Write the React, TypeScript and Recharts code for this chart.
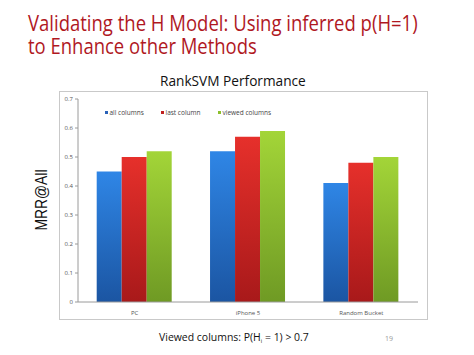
import { useLayoutEffect, useRef, useState } from 'react';
import type { ReactNode } from 'react';
import { BarChart, Bar, XAxis, YAxis, Legend } from 'recharts';

const categories = ['PC', 'iPhone 5', 'Random Bucket'];
const allColumns = [0.45, 0.52, 0.41];
const lastColumn = [0.5, 0.57, 0.48];
const viewedColumns = [0.52, 0.59, 0.5];
const yTicks = [0, 0.1, 0.2, 0.3, 0.4, 0.5, 0.6, 0.7];

const SERIES = [
  { key: 'all', name: 'all columns', grad: 'gBlue', color: '#2a62b8', top: '#2f86e6', bottom: '#1b55a2' },
  { key: 'last', name: 'last column', grad: 'gRed', color: '#c01f1f', top: '#e6302b', bottom: '#a8191a' },
  { key: 'viewed', name: 'viewed columns', grad: 'gGreen', color: '#8cbf2c', top: '#a3d538', bottom: '#6f9a24' },
];

const data = categories.map((name, i) => ({
  name,
  all: allColumns[i],
  last: lastColumn[i],
  viewed: viewedColumns[i],
}));

const small = { fontFamily: 'Open Sans, sans-serif', fontSize: 6, fill: '#555' };

// squeeze a text horizontally so it spans `width` px, like the narrow slide font
function FitText({ x, y, width, rotate = 0, anchorMiddle = false, children, ...rest }: {
  x: number; y: number; width: number; rotate?: number; anchorMiddle?: boolean; children: ReactNode; [k: string]: any;
}) {
  const ref = useRef<SVGTextElement>(null);
  const [s, setS] = useState(1);
  useLayoutEffect(() => {
    if (ref.current) {
      const w = ref.current.getComputedTextLength();
      if (w > 0) setS(width / w);
    }
  }, [width]);
  return (
    <text
      ref={ref}
      x={0}
      y={0}
      textAnchor={anchorMiddle ? 'middle' : 'start'}
      transform={`translate(${x},${y}) rotate(${rotate}) scale(${s},1)`}
      {...rest}
    >
      {children}
    </text>
  );
}

function LegendRow() {
  const xs = [46, 102, 159];
  return (
    <div style={{ position: 'relative', height: 10 }}>
      {SERIES.map((s, i) => (
        <div
          key={s.key}
          style={{ position: 'absolute', left: xs[i], top: 0, display: 'flex', alignItems: 'center', fontFamily: 'Open Sans, sans-serif', fontSize: 6.5, color: '#444', whiteSpace: 'nowrap' }}
        >
          <span style={{ width: 3, height: 3, background: s.color, marginRight: 1.5, display: 'inline-block' }} />
          {s.name}
        </div>
      ))}
    </div>
  );
}

export default function App() {
  const titleFont = { fill: '#b0181f', fontFamily: 'Open Sans, sans-serif', fontSize: 21 };
  return (
    <div style={{ position: 'absolute', left: 0, top: 0, width: 474, height: 355, background: '#fff', overflow: 'hidden' }}>
      <svg width={474} height={355} style={{ position: 'absolute', left: 0, top: 0 }}>
        <FitText x={28} y={31} width={390} {...titleFont}>
          Validating the H Model: Using inferred p(H=1)
        </FitText>
        <FitText x={28} y={54} width={229} {...titleFont}>
          to Enhance other Methods
        </FitText>
        <FitText x={160} y={86} width={146} fill="#111" fontFamily="Open Sans, sans-serif" fontSize={14.5}>
          RankSVM Performance
        </FitText>
        <FitText x={47} y={200} width={61} rotate={-90} anchorMiddle fill="#111" fontFamily="Liberation Sans, sans-serif" fontSize={16.5}>
          MRR@All
        </FitText>
        <FitText x={159} y={341} width={150} fill="#111" fontFamily="Open Sans, sans-serif" fontSize={11.5}>
          Viewed columns: P(H<tspan fontSize={6} dy={2}>i</tspan><tspan dy={-2}> = 1) &gt; 0.7</tspan>
        </FitText>
        <text x={385} y={341} fill="#999" fontFamily="Open Sans, sans-serif" fontSize={7}>
          19
        </text>
      </svg>
      <div style={{ position: 'absolute', left: 59, top: 91, width: 369, height: 229, border: '1px solid #c9c9c9', boxSizing: 'border-box' }} />
      <div style={{ position: 'absolute', left: 59, top: 91 }}>
        <BarChart
          width={369}
          height={229}
          data={data}
          margin={{ top: 8, right: 10, left: 0, bottom: 0 }}
          barCategoryGap="16.5%"
          barGap={0}
        >
          <defs>
            {SERIES.map((s) => (
              <linearGradient key={s.grad} id={s.grad} x1="0" y1="0" x2="0" y2="1">
                <stop offset="0%" stopColor={s.top} />
                <stop offset="100%" stopColor={s.bottom} />
              </linearGradient>
            ))}
          </defs>
          <XAxis
            dataKey="name"
            height={18}
            tick={small}
            tickLine={false}
            axisLine={{ stroke: '#9a9a9a' }}
            tickMargin={3}
          />
          <YAxis
            width={19}
            domain={[0, 0.7]}
            ticks={yTicks}
            interval={0}
            tick={small}
            tickLine={{ stroke: '#9a9a9a' }}
            tickSize={3}
            axisLine={{ stroke: '#9a9a9a' }}
            tickFormatter={(v) => String(v)}
          />
          <Legend
            layout="horizontal"
            verticalAlign="middle"
            align="center"
            wrapperStyle={{ position: 'absolute', top: 17, left: 0, width: 369 }}
            content={() => <LegendRow />}
          />
          {SERIES.map((s) => (
            <Bar key={s.key} dataKey={s.key} name={s.name} fill={`url(#${s.grad})`} isAnimationActive={false} />
          ))}
        </BarChart>
      </div>
    </div>
  );
}
